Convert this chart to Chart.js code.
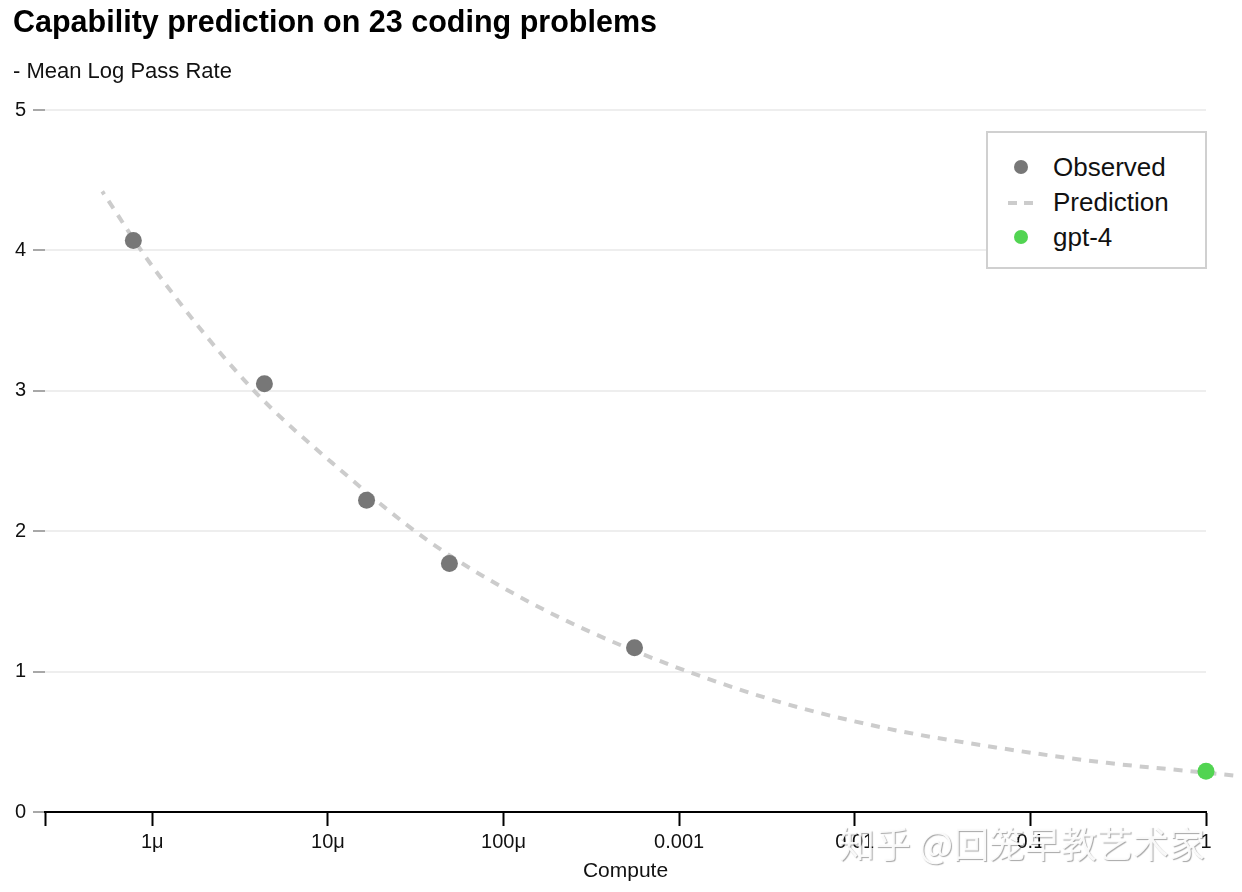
<!DOCTYPE html>
<html>
<head>
<meta charset="utf-8">
<script src="https://cdn.jsdelivr.net/npm/chart.js@4.4.1/dist/chart.umd.min.js"></script>
<style>
    body { margin: 0; background: #fff; }
    #wrap { position: relative; width: 1242px; height: 892px; }
    #legend {
        position: absolute; left: 986px; top: 131px; width: 221px; height: 138px;
        border: 2px solid #d0d0d0; background: #fff; box-sizing: border-box;
        font-family: 'Liberation Sans', Arial, sans-serif; font-size: 26px; color: #111;
        padding-top: 17px;
    }
    #legend .row { height: 35px; line-height: 35px; position: relative; }
    #legend .mark { position: absolute; left: 18px; width: 30px; height: 35px; }
    #legend .dot { position: absolute; left: 8px; top: 10px; width: 14px; height: 14px; border-radius: 50%; }
    #legend .dash { position: absolute; top: 16px; width: 9px; height: 4px; background: #cccccc; }
    #legend .txt { position: absolute; left: 65px; }
    #watermark {
        position: absolute; left: 839px; top: 822px;
        font-family: 'Noto Sans CJK SC', sans-serif; font-size: 36px; line-height: 40px;
        color: rgba(255,255,255,0.92); text-shadow: 1px 1px 1px rgba(0,0,0,0.35);
        white-space: nowrap; pointer-events: none;
    }
</style>
</head>
<body>
<div id="wrap">
    <canvas id="myChart" width="1242" height="892"></canvas>
    <div id="legend"></div>
    <div id="watermark">知乎 @回笼早教艺术家</div>
</div>
<script>
// compute values (fraction of gpt-4 compute) and mean log pass rate
const xMin = 2.45e-7;
const xMax = 1;
const xTickValues = [1e-6, 1e-5, 1e-4, 1e-3, 1e-2, 1e-1, 1];
const xTickLabels = ['1μ', '10μ', '100μ', '0.001', '0.01', '0.1', '1'];
const yTickValues = [0, 1, 2, 3, 4, 5];

const observedCompute = [7.8e-7, 4.35e-6, 1.66e-5, 4.92e-5, 5.57e-4];
const observedValue = [4.07, 3.05, 2.22, 1.77, 1.17];

const gpt4Compute = [1];
const gpt4Value = [0.29];

const predCompute = [5.19e-7, 1.01e-6, 3.61e-6, 1.22e-5, 3.84e-5, 1.43e-4, 5.51e-4, 3.37e-3, 0.0146, 0.0635, 0.273, 1.0, 1.43];
const predValue = [4.42, 3.88, 3.03, 2.42, 1.92, 1.49, 1.15, 0.80, 0.60, 0.46, 0.35, 0.28, 0.26];

const FONT = "'Liberation Sans', Arial, Helvetica, sans-serif";

function pts(xs, ys) {
    return xs.map((x, i) => ({ x: x, y: ys[i] }));
}

var ctx = document.getElementById('myChart').getContext('2d');
var myChart = new Chart(ctx, {
    type: 'line',
    data: {
        datasets: [
            {
                label: 'Observed',
                data: pts(observedCompute, observedValue),
                showLine: false,
                pointRadius: 8.5,
                pointBackgroundColor: '#777777',
                pointBorderWidth: 0,
                order: 1
            },
            {
                label: 'Prediction',
                // reversed so the line is not cut at the axis max (runs a bit past 1)
                data: pts(predCompute, predValue).reverse(),
                borderColor: '#cccccc',
                borderWidth: 4,
                borderDash: [9, 8],
                pointRadius: 0,
                cubicInterpolationMode: 'monotone',
                clip: false,
                order: 3
            },
            {
                label: 'gpt-4',
                data: pts(gpt4Compute, gpt4Value),
                showLine: false,
                pointRadius: 8.5,
                pointBackgroundColor: '#52d452',
                pointBorderWidth: 0,
                clip: false,
                order: 0
            }
        ]
    },
    options: {
        responsive: false,
        animation: false,
        layout: { padding: { left: 13, right: 36, top: 0, bottom: 0 } },
        plugins: {
            legend: { display: false },
            tooltip: { enabled: false },
            title: {
                display: true,
                text: 'Capability prediction on 23 coding problems',
                align: 'start',
                color: '#000',
                font: { family: FONT, size: 30.5, weight: 'bold', lineHeight: 1.2 },
                padding: { top: 5, bottom: 0 }
            },
            subtitle: {
                display: true,
                text: '- Mean Log Pass Rate',
                align: 'start',
                color: '#111',
                font: { family: FONT, size: 22, lineHeight: 1.2 },
                padding: { top: 17, bottom: 25 }
            }
        },
        scales: {
            x: {
                type: 'logarithmic',
                min: xMin,
                max: xMax,
                afterBuildTicks: function (scale) {
                    scale.ticks = [xMin].concat(xTickValues).map(v => ({ value: v }));
                },
                afterFit: function (scale) { scale.height = 80; },
                ticks: {
                    autoSkip: false,
                    maxRotation: 0,
                    color: '#111',
                    padding: 4,
                    font: { family: FONT, size: 20 },
                    callback: function (value, index) {
                        return index === 0 ? '' : xTickLabels[index - 1];
                    }
                },
                grid: {
                    drawOnChartArea: false,
                    tickLength: 14,
                    tickColor: '#000',
                    tickWidth: 2
                },
                border: { display: true, color: '#000', width: 2 },
                title: {
                    display: true,
                    text: 'Compute',
                    color: '#111',
                    font: { family: FONT, size: 21, lineHeight: 1.2 },
                    padding: { top: 0, bottom: 8 }
                }
            },
            y: {
                min: 0,
                max: 5,
                afterBuildTicks: function (scale) {
                    scale.ticks = yTickValues.map(v => ({ value: v }));
                },
                afterFit: function (scale) { scale.width = 32; },
                ticks: {
                    color: '#111',
                    padding: 7,
                    font: { family: FONT, size: 20 }
                },
                grid: {
                    color: '#eeeeee',
                    lineWidth: 2,
                    tickColor: '#a8a8a8',
                    tickLength: 12,
                    tickWidth: 2
                },
                border: { display: false }
            }
        }
    }
});

// legend box drawn as html, built from the chart's datasets
var legendEl = document.getElementById('legend');
myChart.data.datasets.forEach(function (ds) {
    var row = document.createElement('div');
    row.className = 'row';
    var mark = '';
    if (ds.showLine === false) {
        mark = '<span class="dot" style="background:' + ds.pointBackgroundColor + '"></span>';
    } else {
        mark = '<span class="dash" style="left:2px"></span><span class="dash" style="left:18px"></span>';
    }
    row.innerHTML = '<span class="mark">' + mark + '</span><span class="txt">' + ds.label + '</span>';
    legendEl.appendChild(row);
});
</script>
</body>
</html>
